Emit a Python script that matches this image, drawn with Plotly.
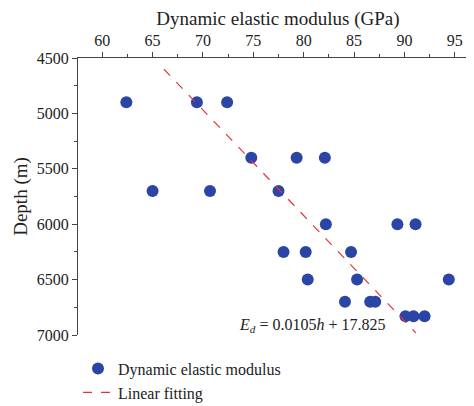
import plotly.graph_objects as go

# measured points: modulus (GPa) vs depth (m)
modulus = [62.4, 69.4, 72.4, 74.8, 79.3, 82.1, 65.0, 70.7, 77.5, 82.2, 89.3, 91.1,
           78.0, 80.2, 84.7, 80.4, 85.3, 94.4, 84.1, 86.6, 87.1, 90.1, 90.9, 92.0]
depth = [4900, 4900, 4900, 5400, 5400, 5400, 5700, 5700, 5700, 6000, 6000, 6000,
         6250, 6250, 6250, 6500, 6500, 6500, 6700, 6700, 6700, 6830, 6830, 6830]

# fitted line E = 0.0105 h + 17.825
fit_depth = [4600, 6980]
fit_modulus = [0.0105 * h + 17.825 for h in fit_depth]

font = dict(family="Liberation Serif, Times New Roman, serif", size=16, color="#222")

fig = go.Figure()
fig.add_trace(go.Scatter(x=modulus, y=depth, mode="markers", name="Dynamic elastic modulus",
                         marker=dict(size=12, color="#2a45a5")))
fig.add_trace(go.Scatter(x=fit_modulus, y=fit_depth, mode="lines", name="Linear fitting",
                         line=dict(color="#e8303a", width=1.2, dash="dash")))
fig.add_annotation(x=80.8, y=6910, text="<i>E<sub>d</sub></i> = 0.0105<i>h</i> + 17.825",
                   showarrow=False, font=dict(family=font["family"], size=16, color="#222"))

axis_common = dict(showgrid=False, zeroline=False, showline=True, linecolor="#444",
                   ticks="outside", ticklen=5, tickcolor="#444",
                   minor=dict(ticks="outside", ticklen=3, tickcolor="#444"))
fig.update_layout(
    width=474, height=406, font=font,
    paper_bgcolor="white", plot_bgcolor="white",
    margin=dict(l=70, r=4, t=46, b=58),
    showlegend=True,
    legend=dict(x=0.0, y=-0.06, xanchor="left", yanchor="top", bgcolor="rgba(0,0,0,0)",
                font=dict(size=16), tracegroupgap=0),
    xaxis=dict(range=[57.6, 97.3], side="top", dtick=5, tick0=60,
               title=dict(text="Dynamic elastic modulus (GPa)", standoff=6),
               minor_dtick=2.5, mirror=False, **axis_common),
    yaxis=dict(range=[7000, 4500], dtick=500, title=dict(text="Depth (m)", standoff=4),
               minor_dtick=250, **axis_common),
)
fig.write_html("out.html")
